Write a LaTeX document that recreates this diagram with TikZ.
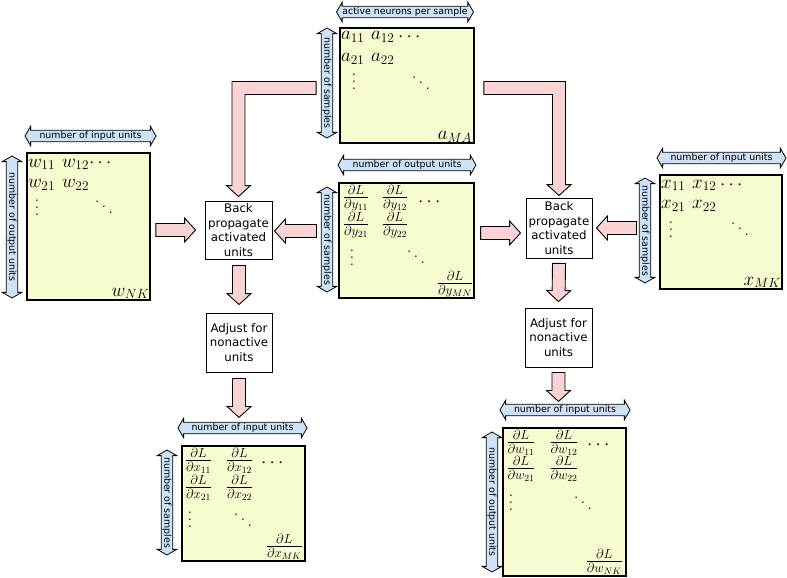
\RequirePackage{fix-cm}
\documentclass[tikz,border=0pt]{standalone}
\usepackage[no-math]{fontspec}
\newfontfamily\dejavu{DejaVu Sans}
\usetikzlibrary{shapes.arrows,calc}
\definecolor{matfill}{RGB}{246,251,208}
\definecolor{pinkf}{RGB}{250,212,212}
\definecolor{bluef}{RGB}{205,225,247}
\newcommand\myvdots{\vbox{\baselineskip7pt\lineskiplimit-20pt\hbox{.}\hbox{.}\hbox{.}}}
\newcommand\myddots{\hbox{\raise11pt\hbox{.}\kern2pt\raise5.5pt\hbox{.}\kern2pt\hbox{.}}}
\newcommand\fatarrow[2]{%
  \path[fat] let \p1=(#1), \p2=(#2), \p3=($(#2)!11pt!(#1)$) in
    ($(\p1)!6.5pt!90:(\p2)$) -- ($(\p3)!6.5pt!-90:(\p1)$) -- ($(\p3)!12pt!-90:(\p1)$) --
    (\p2) -- ($(\p3)!12pt!90:(\p1)$) -- ($(\p3)!6.5pt!90:(\p1)$) -- ($(\p1)!6.5pt!-90:(\p2)$) -- cycle;}
\tikzset{
  mat/.style={draw, line width=1.7pt, fill=matfill, inner sep=0pt},
  proc/.style={draw, line width=0.9pt, fill=white, align=center, inner sep=1pt,
    font=\dejavu\fontsize{11.8}{14.7}\selectfont},
  lab/.style={double arrow, draw, line width=0.8pt, fill=bluef, inner xsep=1pt, inner ysep=0.8pt,
    double arrow head extend=4pt, double arrow tip angle=120,
    font=\dejavu\fontsize{9.4}{10}\selectfont},
  ent/.style={inner sep=0pt, font=\fontsize{19}{21}\selectfont},
  frc/.style={inner sep=0pt, font=\fontsize{18.8}{21}\selectfont},
  fat/.style={draw, fill=pinkf, line width=0.9pt, line join=miter},
}
\begin{document}
\begin{tikzpicture}[x=1pt,y=-1pt]
\useasboundingbox (0,0) rectangle (787,578);

% matrices
\node[mat, minimum width=134pt, minimum height=115pt] (A) at (407,85.5) {};
\node[mat, minimum width=123pt, minimum height=147pt] (W) at (88.5,226.5) {};
\node[mat, minimum width=135pt, minimum height=115pt] (Y) at (406.5,240.5) {};
\node[mat, minimum width=122pt, minimum height=114pt] (X) at (721,232) {};
\node[mat, minimum width=123pt, minimum height=115pt] (Dx) at (243.5,503.5) {};
\node[mat, minimum width=123pt, minimum height=148pt] (Dw) at (564.5,502) {};

% dimension labels
\node[lab, minimum height=137pt] (Ah) at (405,12) {active neurons per sample};
\node[lab, rotate=-90, minimum height=110pt] (Av) at (327,83) {number of samples};
\node[lab, minimum height=131pt] (Wh) at (90.5,136) {number of input units};
\node[lab, rotate=-90, minimum height=142pt] (Wv) at (12,227) {number of output units};
\node[lab, minimum height=138pt] (Yh) at (407,165) {number of output units};
\node[lab, rotate=-90, minimum height=105pt] (Yv) at (327,239.5) {number of samples};
\node[lab, minimum height=129pt] (Xh) at (721.5,158) {number of input units};
\node[lab, rotate=-90, minimum height=105pt] (Xv) at (645,230.5) {number of samples};
\node[lab, minimum height=129pt] (Dxh) at (242.5,428) {number of input units};
\node[lab, rotate=-90, minimum height=105pt] (Dxv) at (167,502.5) {number of samples};
\node[lab, minimum height=130pt] (Dwh) at (565,410) {number of input units};
\node[lab, rotate=-90, minimum height=140pt] (Dwv) at (492,502) {number of output units};

% entries of A
\node[ent, anchor=base west] (a11) at (341,40) {$a_{11}$};
\node[ent, anchor=base west] (a12) at (371,40) {$a_{12}$};
\node[ent, anchor=base west] (acd) at (398,41.3) {$\cdots$};
\node[ent, anchor=base west] (a21) at (341,62) {$a_{21}$};
\node[ent, anchor=base west] (a22) at (371,62) {$a_{22}$};
\node[ent] (avd) at (354,82) {\myvdots};
\node[ent] (add) at (421,83) {\myddots};
\node[ent, anchor=base east] (aMA) at (472,139.5) {$a_{MA}$};

% entries of W
\node[ent, anchor=base west] (w11) at (28,167) {$w_{11}$};
\node[ent, anchor=base west] (w12) at (62,167) {$w_{12}$};
\node[ent, anchor=base west] (wcd) at (89,167.3) {$\cdots$};
\node[ent, anchor=base west] (w21) at (28,187.5) {$w_{21}$};
\node[ent, anchor=base west] (w22) at (62,187.5) {$w_{22}$};
\node[ent] (wvd) at (37,208) {\myvdots};
\node[ent] (wdd) at (104,207) {\myddots};
\node[ent, anchor=base east] (wNK) at (149.5,296) {$w_{NK}$};

% entries of dL/dy
\node[frc] (y11) at (356,198.5) {$\frac{\partial L}{\partial y_{11}}$};
\node[frc] (y12) at (395,198.5) {$\frac{\partial L}{\partial y_{12}}$};
\node[ent, anchor=base west] (ycd) at (418,206.3) {$\cdots$};
\node[frc] (y21) at (356,225.5) {$\frac{\partial L}{\partial y_{21}}$};
\node[frc] (y22) at (395,225.5) {$\frac{\partial L}{\partial y_{22}}$};
\node[ent] (yvd) at (352,258) {\myvdots};
\node[ent] (ydd) at (416,257) {\myddots};
\node[frc, anchor=east] (yMN) at (473,284) {$\frac{\partial L}{\partial y_{MN}}$};

% entries of X
\node[ent, anchor=base west] (x11) at (661,188) {$x_{11}$};
\node[ent, anchor=base west] (x12) at (692,188) {$x_{12}$};
\node[ent, anchor=base west] (xcd) at (720,189.3) {$\cdots$};
\node[ent, anchor=base west] (x21) at (661,208.5) {$x_{21}$};
\node[ent, anchor=base west] (x22) at (692,208.5) {$x_{22}$};
\node[ent] (xvd) at (671,230) {\myvdots};
\node[ent] (xdd) at (740,229) {\myddots};
\node[ent, anchor=base east] (xMK) at (781,285) {$x_{MK}$};

% entries of dL/dx
\node[frc] (dx11) at (198.5,460.5) {$\frac{\partial L}{\partial x_{11}}$};
\node[frc] (dx12) at (239.5,460.5) {$\frac{\partial L}{\partial x_{12}}$};
\node[ent, anchor=base west] (dxcd) at (261,467) {$\cdots$};
\node[frc] (dx21) at (198.5,487.5) {$\frac{\partial L}{\partial x_{21}}$};
\node[frc] (dx22) at (239.5,487.5) {$\frac{\partial L}{\partial x_{22}}$};
\node[ent] (dxvd) at (190,520) {\myvdots};
\node[ent] (dxdd) at (243,520) {\myddots};
\node[frc, anchor=east] (dxMK) at (303,547) {$\frac{\partial L}{\partial x_{MK}}$};

% entries of dL/dw
\node[frc] (dw11) at (521,442.5) {$\frac{\partial L}{\partial w_{11}}$};
\node[frc] (dw12) at (564,442.5) {$\frac{\partial L}{\partial w_{12}}$};
\node[ent, anchor=base west] (dwcd) at (587,449) {$\cdots$};
\node[frc] (dw21) at (521,469) {$\frac{\partial L}{\partial w_{21}}$};
\node[frc] (dw22) at (564,469) {$\frac{\partial L}{\partial w_{22}}$};
\node[ent] (dwvd) at (511,503) {\myvdots};
\node[ent] (dwdd) at (583,503) {\myddots};
\node[frc, anchor=east] (dwNK) at (623,562) {$\frac{\partial L}{\partial w_{NK}}$};

% process boxes
\node[proc, minimum width=67pt, minimum height=58pt] (BPL) at (238.5,230) {Back\\propagate\\activated\\units};
\node[proc, minimum width=66pt, minimum height=59pt] (ADL) at (239,342.5) {Adjust for\\nonactive\\units};
\node[proc, minimum width=66pt, minimum height=60pt] (BPR) at (559,228) {Back\\propagate\\activated\\units};
\node[proc, minimum width=67pt, minimum height=59pt] (ADR) at (558.5,337.5) {Adjust for\\nonactive\\units};

% straight fat arrows
\coordinate (f1s) at ($(W.east |- BPL.west)+(5,0)$);
\coordinate (f1e) at ($(BPL.west)+(-9,0)$);
\coordinate (f2s) at ($(BPL.east)+(44,1)$);
\coordinate (f2e) at ($(BPL.east)+(2,1)$);
\coordinate (f3s) at ($(BPR.west)+(-45,5)$);
\coordinate (f3e) at ($(BPR.west)+(-5,5)$);
\coordinate (f4s) at ($(BPR.east)+(44,0)$);
\coordinate (f4e) at ($(BPR.east)+(4,0)$);
\coordinate (f5s) at ($(BPL.south)+(0.5,6)$);
\coordinate (f5e) at ($(ADL.north)+(0,-8)$);
\coordinate (f6s) at ($(ADL.south)+(0,6)$);
\coordinate (f6e) at ($(ADL.south)+(0,45)$);
\coordinate (f7s) at ($(BPR.south)+(0,5)$);
\coordinate (f7e) at ($(ADR.north)+(0,-6)$);
\coordinate (f8s) at ($(ADR.south)+(0,5)$);
\coordinate (f8e) at ($(ADR.south)+(0,34)$);
\fatarrow{f1s}{f1e}
\fatarrow{f2s}{f2e}
\fatarrow{f3s}{f3e}
\fatarrow{f4s}{f4e}
\fatarrow{f5s}{f5e}
\fatarrow{f6s}{f6e}
\fatarrow{f7s}{f7e}
\fatarrow{f8s}{f8e}

% L-shaped fat arrows from A
\coordinate (l1s) at ($(A.west)+(-23,2.5)$);
\coordinate (l1c) at (BPL.north |- l1s);
\coordinate (l1e) at ($(BPL.north)+(0,-4)$);
\path[fat] ($(l1s)+(0,-6.5)$) -- ($(l1c)+(-6.5,-6.5)$) -- ($(l1e)+(-6.5,-11)$) -- ($(l1e)+(-12,-11)$)
  -- (l1e) -- ($(l1e)+(12,-11)$) -- ($(l1e)+(6.5,-11)$) -- ($(l1c)+(6.5,6.5)$) -- ($(l1s)+(0,6.5)$) -- cycle;
\coordinate (l2s) at ($(A.east)+(9,2.5)$);
\coordinate (l2c) at (BPR.north |- l2s);
\coordinate (l2e) at ($(BPR.north)+(0,-2)$);
\path[fat] ($(l2s)+(0,-6.5)$) -- ($(l2c)+(6.5,-6.5)$) -- ($(l2e)+(6.5,-11)$) -- ($(l2e)+(12,-11)$)
  -- (l2e) -- ($(l2e)+(-12,-11)$) -- ($(l2e)+(-6.5,-11)$) -- ($(l2c)+(-6.5,6.5)$) -- ($(l2s)+(0,6.5)$) -- cycle;
\end{tikzpicture}
\end{document}
